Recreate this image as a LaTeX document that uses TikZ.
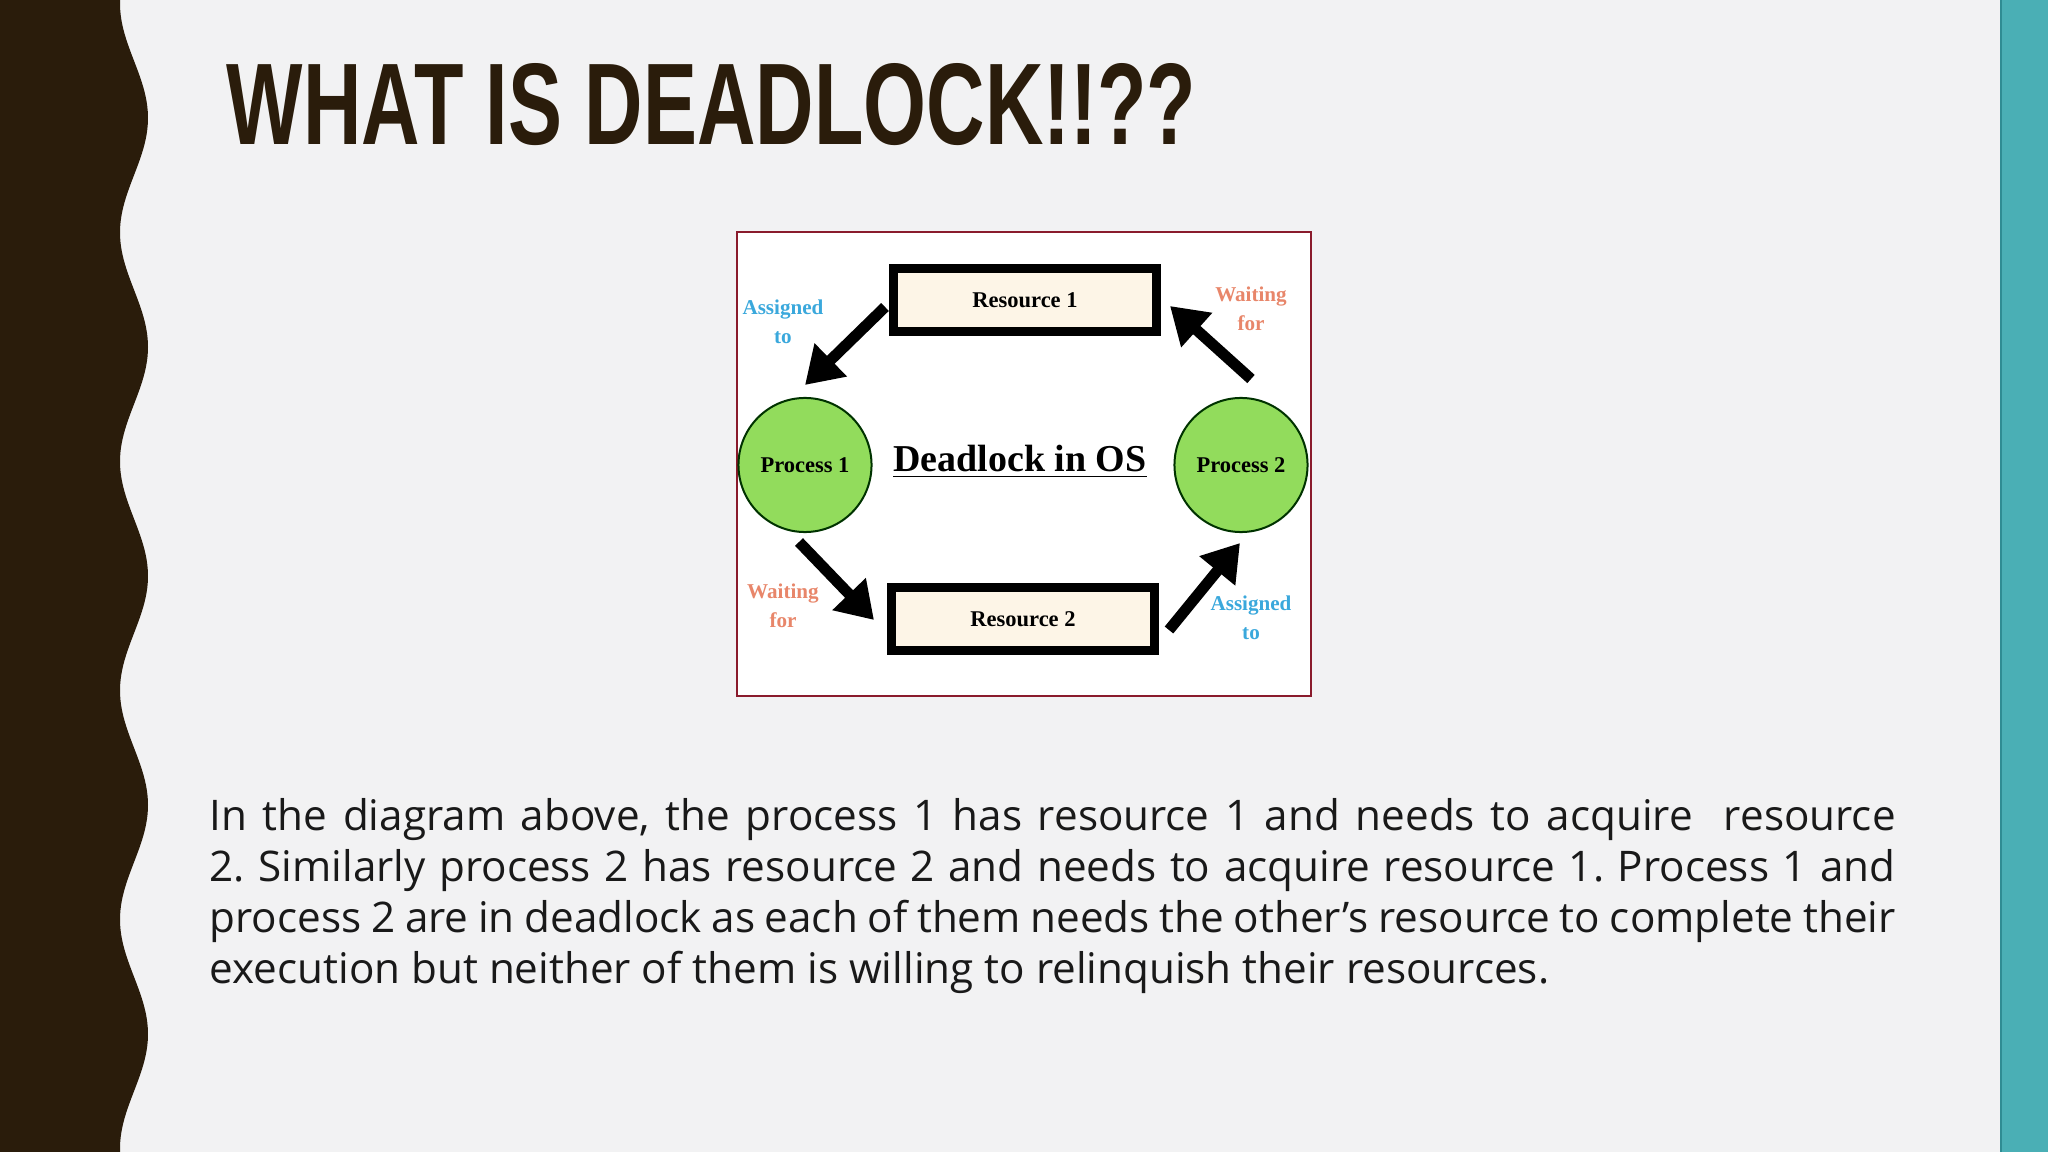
\documentclass[tikz,border=0pt]{standalone}
\usepackage{fontspec}
\setmainfont{Liberation Serif}
\newfontfamily\bodyfont{Open Sans}
\newfontfamily\titlefont{Liberation Sans}
\usetikzlibrary{arrows.meta,shapes.geometric}
\definecolor{bg}{HTML}{F2F2F3}
\definecolor{darkband}{HTML}{2A1C0B}
\definecolor{teal}{HTML}{4AAFB5}
\definecolor{tealedge}{HTML}{2F8C93}
\definecolor{boxred}{HTML}{8A1B2C}
\definecolor{resfill}{HTML}{FDF5E7}
\definecolor{procfill}{HTML}{92DC5C}
\definecolor{asgblue}{HTML}{3AA8DC}
\definecolor{waitorange}{HTML}{E8866A}
\tikzset{
  resbox/.style={draw=black,line width=0.09cm,fill=resfill,minimum width=2.62cm,minimum height=0.62cm,inner sep=0pt,font=\fontsize{6.4}{7}\selectfont\bfseries},
  proc/.style={ellipse,draw=black!80!green,line width=0.02cm,fill=procfill,minimum width=1.33cm,minimum height=1.34cm,inner sep=0pt,font=\fontsize{6.4}{7}\selectfont\bfseries},
  bigarrow/.style={line width=0.11cm,-{Triangle[length=0.36cm,width=0.44cm]}},
  asg/.style={text=asgblue,align=center,font=\fontsize{6}{8.2}\selectfont\bfseries},
  wait/.style={text=waitorange,align=center,font=\fontsize{6}{8.2}\selectfont\bfseries}
}
\begin{document}
\begin{tikzpicture}[x=0.01cm,y=-0.01cm]
\useasboundingbox (0,0) rectangle (2048,1152);
\fill[bg] (0,0) rectangle (2048,1152);
\fill[darkband] (0,0) -- plot[domain=0:1152,samples=240] ({134+14*cos(1.572*(\x-118))},\x) -- (0,1152) -- cycle;
\fill[teal] (2000,0) rectangle (2048,1152);
\draw[tealedge,line width=0.02cm] (2001,0) -- (2001,1152);
\node[anchor=south west,inner sep=0pt] (title) at (226,146) {\resizebox{9.69cm}{0.81cm}{\titlefont\bfseries\color{darkband}WHAT IS DEADLOCK!!??}};
\draw[boxred,fill=white,line width=0.025cm] (737,232) rectangle (1311,696);
\node[resbox] (r1) at (1025,300) {Resource 1};
\node[resbox] (r2) at (1023,619) {Resource 2};
\node[proc] (p1) at (805,465) {Process 1};
\node[proc] (p2) at (1241,465) {Process 2};
\node (dl) at (1020,462) {\fontsize{10.8}{11}\selectfont\bfseries\underline{Deadlock in OS}};
\coordinate (a1s) at (885,307); \coordinate (a1e) at (805,385);
\coordinate (a2s) at (1251,379); \coordinate (a2e) at (1170,306);
\coordinate (a3s) at (799,542); \coordinate (a3e) at (874,620);
\coordinate (a4s) at (1169,630); \coordinate (a4e) at (1240,543);
\draw[bigarrow] (a1s) -- (a1e);
\draw[bigarrow] (a2s) -- (a2e);
\draw[bigarrow] (a3s) -- (a3e);
\draw[bigarrow] (a4s) -- (a4e);
\node[asg] (l1) at (783,322) {Assigned\\to};
\node[wait] (l2) at (1251,309) {Waiting\\for};
\node[wait] (l3) at (783,606) {Waiting\\for};
\node[asg] (l4) at (1251,618) {Assigned\\to};
\node[anchor=base west,inner sep=0pt] (para) at (209,798) {\begin{minipage}[t]{16.85cm}\bodyfont\fontsize{12}{14.5}\selectfont\frenchspacing\color{black!90}
In the diagram above, the process 1 has resource 1 and needs to acquire \ resource 2. Similarly process 2 has resource 2 and needs to acquire resource 1. Process 1 and process 2 are in deadlock as each of them needs the other’s resource to complete their execution but neither of them is willing to relinquish their resources.\end{minipage}};
\end{tikzpicture}
\end{document}
